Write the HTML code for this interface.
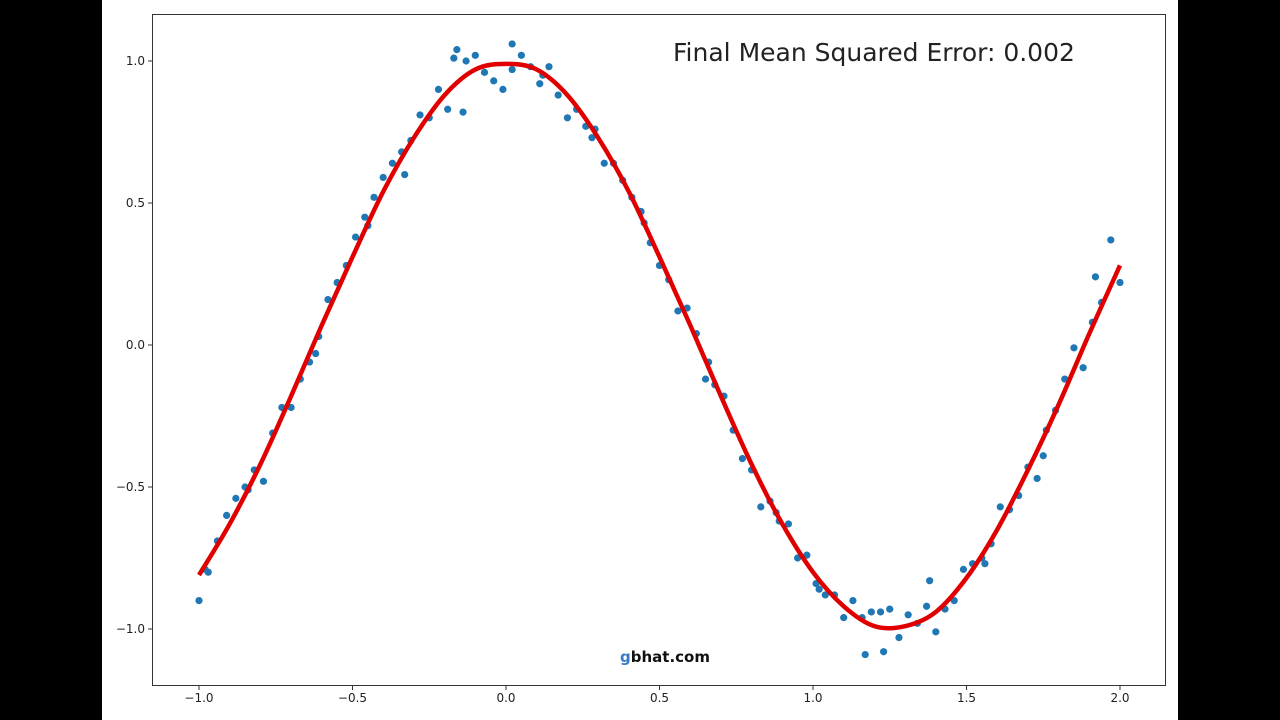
<!DOCTYPE html>
<html><head><meta charset="utf-8"><style>
body{margin:0;background:#000;width:1280px;height:720px;overflow:hidden}
#wrap{position:absolute;left:102px;top:0;width:1076px;height:720px;background:#fff}
svg{position:absolute;left:0;top:0}
text{font-family:"DejaVu Sans","Liberation Sans",sans-serif}
</style></head><body>
<div id="wrap"></div>
<svg id="chart" width="1280" height="720"></svg>
<script>
const scatterX=[-1.00,-0.97,-0.94,-0.91,-0.88,-0.85,-0.82,-0.79,-0.76,-0.73,-0.70,-0.67,-0.64,-0.61,-0.58,-0.55,-0.52,-0.49,-0.46,-0.43,-0.40,-0.37,-0.34,-0.31,-0.28,-0.25,-0.22,-0.19,-0.16,-0.13,-0.10,-0.07,-0.04,-0.01,0.02,0.05,0.08,0.11,0.14,0.17,0.20,0.23,0.26,0.29,0.32,0.35,0.38,0.41,0.44,0.47,0.50,0.53,0.56,0.59,0.62,0.65,0.68,0.71,0.74,0.77,0.80,0.83,0.86,0.89,0.92,0.95,0.98,1.01,1.04,1.07,1.10,1.13,1.16,1.19,1.22,1.25,1.28,1.31,1.34,1.37,1.40,1.43,1.46,1.49,1.52,1.55,1.58,1.61,1.64,1.67,1.70,1.73,1.76,1.79,1.82,1.85,1.88,1.91,1.94,1.97,2.00,-0.14,1.17,1.23,1.38,0.02,-0.17,-0.98,-0.84,-0.62,-0.45,-0.33,0.12,0.28,0.45,0.66,0.88,1.02,1.56,1.75,1.92];
const scatterY=[-0.90,-0.80,-0.69,-0.60,-0.54,-0.50,-0.44,-0.48,-0.31,-0.22,-0.22,-0.12,-0.06,0.03,0.16,0.22,0.28,0.38,0.45,0.52,0.59,0.64,0.68,0.72,0.81,0.80,0.90,0.83,1.04,1.00,1.02,0.96,0.93,0.90,0.97,1.02,0.98,0.92,0.98,0.88,0.80,0.83,0.77,0.76,0.64,0.64,0.58,0.52,0.47,0.36,0.28,0.23,0.12,0.13,0.04,-0.12,-0.14,-0.18,-0.30,-0.40,-0.44,-0.57,-0.55,-0.62,-0.63,-0.75,-0.74,-0.84,-0.88,-0.88,-0.96,-0.90,-0.96,-0.94,-0.94,-0.93,-1.03,-0.95,-0.98,-0.92,-1.01,-0.93,-0.90,-0.79,-0.77,-0.75,-0.70,-0.57,-0.58,-0.53,-0.43,-0.47,-0.30,-0.23,-0.12,-0.01,-0.08,0.08,0.15,0.37,0.22,0.82,-1.09,-1.08,-0.83,1.06,1.01,-0.79,-0.51,-0.03,0.42,0.60,0.95,0.73,0.43,-0.06,-0.59,-0.86,-0.77,-0.39,0.24];
const fitX=[-1.0,-0.9,-0.8,-0.7,-0.6,-0.5,-0.4,-0.3,-0.2,-0.1,0.0,0.1,0.2,0.3,0.4,0.5,0.6,0.7,0.8,0.9,1.0,1.1,1.2,1.3,1.4,1.5,1.6,1.7,1.8,1.9,2.0];
const fitY=[-0.81,-0.63,-0.42,-0.18,0.07,0.31,0.54,0.73,0.88,0.97,0.99,0.97,0.88,0.73,0.54,0.31,0.07,-0.18,-0.42,-0.63,-0.80,-0.92,-0.99,-0.99,-0.94,-0.82,-0.65,-0.44,-0.21,0.04,0.28];
const xTicks=[-1.0,-0.5,0.0,0.5,1.0,1.5,2.0];
const xTickLabels=["−1.0","−0.5","0.0","0.5","1.0","1.5","2.0"];
const yTicks=[-1.0,-0.5,0.0,0.5,1.0];
const yTickLabels=["−1.0","−0.5","0.0","0.5","1.0"];

const NS="http://www.w3.org/2000/svg";
const svg=document.getElementById('chart');
const X=v=>506+v*307;
const Y=v=>345-v*284;
function mk(t,a){const e=document.createElementNS(NS,t);for(const k in a)e.setAttribute(k,a[k]);svg.appendChild(e);return e;}

const frame=mk('rect',{x:152.5,y:14.5,width:1013,height:671,fill:'none',stroke:'#333','stroke-width':1});



xTicks.forEach((v,i)=>{
  const l=mk('line',{x1:X(v),x2:X(v),y1:686,y2:690,stroke:'#333'});
  
  
  const t=mk('text',{x:X(v),y:702,'font-size':12,'text-anchor':'middle',fill:'#222'});
  t.textContent=xTickLabels[i];
  
  
});
yTicks.forEach((v,i)=>{
  const l=mk('line',{x1:148,x2:152,y1:Y(v),y2:Y(v),stroke:'#333'});
  
  
  const t=mk('text',{x:145,y:Y(v)+4,'font-size':12,'text-anchor':'end',fill:'#222'});
  t.textContent=yTickLabels[i];
  
  
});

scatterX.forEach((x,i)=>{
  const c=mk('circle',{cx:X(x),cy:Y(scatterY[i]),r:3.6,fill:'#1f77b4'});
  
  
});

const P=fitX.map((x,i)=>[X(x),Y(fitY[i])]);
let d=`M${P[0][0]},${P[0][1]}`;
for(let i=0;i<P.length-1;i++){
  const p0=P[Math.max(0,i-1)],p1=P[i],p2=P[i+1],p3=P[Math.min(P.length-1,i+2)];
  const c1=[p1[0]+(p2[0]-p0[0])/6,p1[1]+(p2[1]-p0[1])/6];
  const c2=[p2[0]-(p3[0]-p1[0])/6,p2[1]-(p3[1]-p1[1])/6];
  d+=` C${c1[0]},${c1[1]} ${c2[0]},${c2[1]} ${p2[0]},${p2[1]}`;
}
const fit=mk('path',{d:d,fill:'none',stroke:'#e00000','stroke-width':4.5,'stroke-linejoin':'round'});



const title=mk('text',{x:673,y:61,'font-size':25,fill:'#222'});
title.textContent='Final Mean Squared Error: 0.002';



const wm=mk('text',{x:620,y:662,'font-size':15,'font-weight':'bold',fill:'#111'});
wm.innerHTML='<tspan fill="#3a7bc8">g</tspan>bhat.com';


</script>
</body></html>
